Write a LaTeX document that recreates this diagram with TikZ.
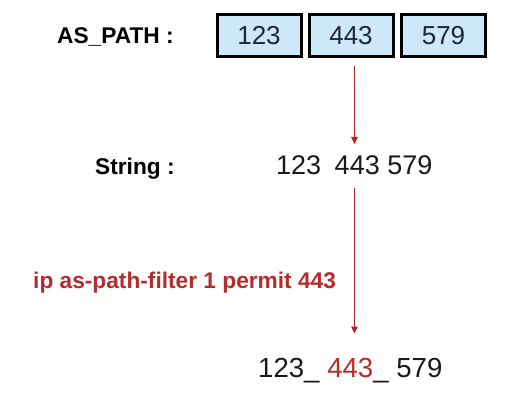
\documentclass[tikz,border=0pt]{standalone}
\usepackage{fontspec}
\setmainfont{Liberation Sans}
\usetikzlibrary{arrows.meta}
\definecolor{boxfill}{RGB}{205,232,251}
\definecolor{boxtext}{RGB}{30,40,52}
\definecolor{darkred}{RGB}{178,36,36}
\definecolor{txtred}{RGB}{181,44,44}
\tikzset{
  asbox/.style={draw=black, line width=3pt, fill=boxfill, minimum width=84pt, minimum height=42pt, inner sep=0pt, text=boxtext, font=\fontsize{26}{26}\selectfont},
  lbl/.style={anchor=base west, inner sep=0pt, font=\fontsize{22.7}{23}\selectfont\bfseries},
  plain/.style={anchor=base west, inner sep=0pt, text=black!90, font=\fontsize{27}{27}\selectfont},
  flow/.style={draw=darkred, line width=1.5pt, -{Triangle[length=7pt,width=6.5pt]}},
}
\begin{document}
\begin{tikzpicture}[x=1pt,y=-1pt]
\useasboundingbox (0,0) rectangle (514,403);
\node[lbl] (aslbl) at (57,44) {AS\_PATH :};
\node[asbox] (box1) at (259,36) {123};
\node[asbox] (box2) at (351,36) {443};
\node[asbox] (box3) at (443.5,36) {579};
\node[lbl] (strlbl) at (95,175) {String :};
\node[plain] (strtxt) at (276,175) {123\hspace{6pt} 443 579};
\node[lbl, text=txtred] (filter) at (33,289) {ip as-path-filter 1 permit 443};
\node[plain, font=\fontsize{27.6}{28}\selectfont] (result) at (258,377) {123\_ \textcolor{txtred}{443}\_ 579};
\coordinate (ax) at (354.5,0);
\draw[flow, shorten <=8pt, shorten >=12pt] (box2.south -| ax) -- (strtxt.north -| ax);
\draw[flow, shorten <=13pt, shorten >=24pt] (strtxt.south -| ax) -- (result.north -| ax);
\end{tikzpicture}
\end{document}
